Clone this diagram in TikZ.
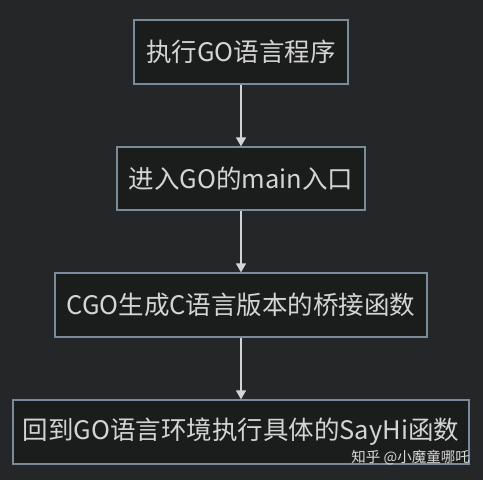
\documentclass[tikz,border=0pt]{standalone}
\usepackage{fontspec}
\setmainfont{Noto Sans CJK SC}
\usetikzlibrary{arrows.meta}
\definecolor{bg}{HTML}{252628}
\definecolor{boxfill}{HTML}{1B1C1C}
\definecolor{boxline}{HTML}{7A8C9C}
\definecolor{txt}{HTML}{D4D4D4}
\begin{document}
\begin{tikzpicture}[x=1pt,y=-1pt,
  stepbox/.style={draw=boxline,fill=boxfill,line width=1.3pt,text=txt,font=\fontsize{25.5}{28}\selectfont,inner sep=0pt,anchor=center},
  flow/.style={draw=txt,line width=1.3pt,-{Triangle[length=9pt,width=10pt]}}]
\fill[bg] (0,0) rectangle (483,480);
\useasboundingbox (0,0) rectangle (483,480);
\node[stepbox,minimum width=214pt,minimum height=64pt] (a) at (241,52) {执行GO语言程序};
\node[stepbox,minimum width=248pt,minimum height=63pt] (b) at (241,178.5) {进入GO的main入口};
\node[stepbox,minimum width=372pt,minimum height=64pt] (c) at (241,305) {CGO生成C语言版本的桥接函数};
\node[stepbox,minimum width=456pt,minimum height=64pt] (d) at (241,432) {回到GO语言环境执行具体的SayHi函数};
\draw[flow] (a) -- (b);
\draw[flow] (b) -- (c);
\draw[flow] (c) -- (d);
\node[text=txt!90,font=\fontsize{14.5}{16}\selectfont,anchor=east,inner sep=0pt] (w) at (470,458) {知乎 @小魔童哪吒};
\end{tikzpicture}
\end{document}
